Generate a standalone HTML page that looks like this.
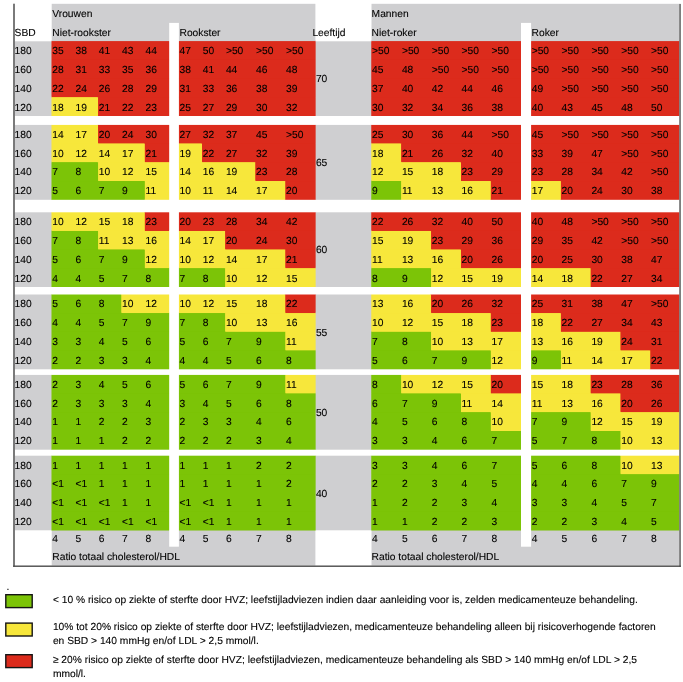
<!DOCTYPE html>
<html lang="nl"><head><meta charset="utf-8"><title>Risicotabel</title>
<style>
html,body{margin:0;padding:0;background:#fff}
body{width:683px;height:682px;position:relative;overflow:hidden;font-family:"Liberation Sans",sans-serif;color:#000;text-rendering:geometricPrecision;-webkit-text-stroke:0.1px #000}
.b{position:absolute}
.t,.l{position:absolute;font-size:10.25px;line-height:12px;white-space:nowrap}
</style></head><body>
<svg class="b" style="left:0;top:0" width="683" height="682" viewBox="0 0 683 682">
<rect x="51.00" y="3.10" width="265.10" height="38.90" fill="#cfcfd1"/>
<rect x="370.80" y="3.10" width="309.30" height="38.90" fill="#cfcfd1"/>
<rect x="51.00" y="529.60" width="265.10" height="36.70" fill="#cfcfd1"/>
<rect x="370.80" y="529.60" width="309.30" height="36.70" fill="#cfcfd1"/>
<rect x="13.90" y="40.60" width="38.50" height="76.10" fill="#cfcfd1"/>
<rect x="314.70" y="40.60" width="57.50" height="76.10" fill="#cfcfd1"/>
<rect x="51.00" y="40.60" width="118.90" height="20.08" fill="#dc2b1c"/>
<rect x="51.00" y="59.27" width="118.90" height="20.08" fill="#dc2b1c"/>
<rect x="51.00" y="77.95" width="118.90" height="20.08" fill="#dc2b1c"/>
<rect x="51.00" y="96.62" width="47.90" height="20.08" fill="#f7e73b"/>
<rect x="97.50" y="96.62" width="72.40" height="20.08" fill="#dc2b1c"/>
<rect x="178.20" y="40.60" width="137.90" height="20.08" fill="#dc2b1c"/>
<rect x="178.20" y="59.27" width="137.90" height="20.08" fill="#dc2b1c"/>
<rect x="178.20" y="77.95" width="137.90" height="20.08" fill="#dc2b1c"/>
<rect x="178.20" y="96.62" width="137.90" height="20.08" fill="#dc2b1c"/>
<rect x="370.80" y="40.60" width="150.90" height="20.08" fill="#dc2b1c"/>
<rect x="370.80" y="59.27" width="150.90" height="20.08" fill="#dc2b1c"/>
<rect x="370.80" y="77.95" width="150.90" height="20.08" fill="#dc2b1c"/>
<rect x="370.80" y="96.62" width="150.90" height="20.08" fill="#dc2b1c"/>
<rect x="530.40" y="40.60" width="149.70" height="20.08" fill="#dc2b1c"/>
<rect x="530.40" y="59.27" width="149.70" height="20.08" fill="#dc2b1c"/>
<rect x="530.40" y="77.95" width="149.70" height="20.08" fill="#dc2b1c"/>
<rect x="530.40" y="96.62" width="149.70" height="20.08" fill="#dc2b1c"/>
<rect x="13.90" y="124.20" width="38.50" height="76.30" fill="#cfcfd1"/>
<rect x="314.70" y="124.20" width="57.50" height="76.30" fill="#cfcfd1"/>
<rect x="51.00" y="124.20" width="47.90" height="20.12" fill="#f7e73b"/>
<rect x="97.50" y="124.20" width="72.40" height="20.12" fill="#dc2b1c"/>
<rect x="51.00" y="142.93" width="94.60" height="20.12" fill="#f7e73b"/>
<rect x="144.20" y="142.93" width="25.70" height="20.12" fill="#dc2b1c"/>
<rect x="51.00" y="161.65" width="47.90" height="20.12" fill="#7cc407"/>
<rect x="97.50" y="161.65" width="72.40" height="20.12" fill="#f7e73b"/>
<rect x="51.00" y="180.38" width="94.60" height="20.12" fill="#7cc407"/>
<rect x="144.20" y="180.38" width="25.70" height="20.12" fill="#f7e73b"/>
<rect x="178.20" y="124.20" width="137.90" height="20.12" fill="#dc2b1c"/>
<rect x="178.20" y="142.93" width="24.60" height="20.12" fill="#f7e73b"/>
<rect x="201.40" y="142.93" width="114.70" height="20.12" fill="#dc2b1c"/>
<rect x="178.20" y="161.65" width="78.00" height="20.12" fill="#f7e73b"/>
<rect x="254.80" y="161.65" width="61.30" height="20.12" fill="#dc2b1c"/>
<rect x="178.20" y="180.38" width="108.00" height="20.12" fill="#f7e73b"/>
<rect x="284.80" y="180.38" width="31.30" height="20.12" fill="#dc2b1c"/>
<rect x="370.80" y="124.20" width="150.90" height="20.12" fill="#dc2b1c"/>
<rect x="370.80" y="142.93" width="31.20" height="20.12" fill="#f7e73b"/>
<rect x="400.60" y="142.93" width="121.10" height="20.12" fill="#dc2b1c"/>
<rect x="370.80" y="161.65" width="90.90" height="20.12" fill="#f7e73b"/>
<rect x="460.30" y="161.65" width="61.40" height="20.12" fill="#dc2b1c"/>
<rect x="370.80" y="180.38" width="31.20" height="20.12" fill="#7cc407"/>
<rect x="400.60" y="180.38" width="91.00" height="20.12" fill="#f7e73b"/>
<rect x="490.20" y="180.38" width="31.50" height="20.12" fill="#dc2b1c"/>
<rect x="530.40" y="124.20" width="149.70" height="20.12" fill="#dc2b1c"/>
<rect x="530.40" y="142.93" width="149.70" height="20.12" fill="#dc2b1c"/>
<rect x="530.40" y="161.65" width="149.70" height="20.12" fill="#dc2b1c"/>
<rect x="530.40" y="180.38" width="31.25" height="20.12" fill="#f7e73b"/>
<rect x="560.25" y="180.38" width="119.85" height="20.12" fill="#dc2b1c"/>
<rect x="13.90" y="211.60" width="38.50" height="76.10" fill="#cfcfd1"/>
<rect x="314.70" y="211.60" width="57.50" height="76.10" fill="#cfcfd1"/>
<rect x="51.00" y="211.60" width="94.60" height="20.07" fill="#f7e73b"/>
<rect x="144.20" y="211.60" width="25.70" height="20.07" fill="#dc2b1c"/>
<rect x="51.00" y="230.28" width="47.90" height="20.07" fill="#7cc407"/>
<rect x="97.50" y="230.28" width="72.40" height="20.07" fill="#f7e73b"/>
<rect x="51.00" y="248.95" width="94.60" height="20.07" fill="#7cc407"/>
<rect x="144.20" y="248.95" width="25.70" height="20.07" fill="#f7e73b"/>
<rect x="51.00" y="267.62" width="118.90" height="20.07" fill="#7cc407"/>
<rect x="178.20" y="211.60" width="137.90" height="20.07" fill="#dc2b1c"/>
<rect x="178.20" y="230.28" width="47.80" height="20.07" fill="#f7e73b"/>
<rect x="224.60" y="230.28" width="91.50" height="20.07" fill="#dc2b1c"/>
<rect x="178.20" y="248.95" width="108.00" height="20.07" fill="#f7e73b"/>
<rect x="284.80" y="248.95" width="31.30" height="20.07" fill="#dc2b1c"/>
<rect x="178.20" y="267.62" width="47.80" height="20.07" fill="#7cc407"/>
<rect x="224.60" y="267.62" width="91.50" height="20.07" fill="#f7e73b"/>
<rect x="370.80" y="211.60" width="150.90" height="20.07" fill="#dc2b1c"/>
<rect x="370.80" y="230.28" width="61.10" height="20.07" fill="#f7e73b"/>
<rect x="430.50" y="230.28" width="91.20" height="20.07" fill="#dc2b1c"/>
<rect x="370.80" y="248.95" width="90.90" height="20.07" fill="#f7e73b"/>
<rect x="460.30" y="248.95" width="61.40" height="20.07" fill="#dc2b1c"/>
<rect x="370.80" y="267.62" width="61.10" height="20.07" fill="#7cc407"/>
<rect x="430.50" y="267.62" width="91.20" height="20.07" fill="#f7e73b"/>
<rect x="530.40" y="211.60" width="149.70" height="20.07" fill="#dc2b1c"/>
<rect x="530.40" y="230.28" width="149.70" height="20.07" fill="#dc2b1c"/>
<rect x="530.40" y="248.95" width="149.70" height="20.07" fill="#dc2b1c"/>
<rect x="530.40" y="267.62" width="61.10" height="20.07" fill="#f7e73b"/>
<rect x="590.10" y="267.62" width="90.00" height="20.07" fill="#dc2b1c"/>
<rect x="13.90" y="293.80" width="38.50" height="76.20" fill="#cfcfd1"/>
<rect x="314.70" y="293.80" width="57.50" height="76.20" fill="#cfcfd1"/>
<rect x="51.00" y="293.80" width="71.20" height="20.10" fill="#7cc407"/>
<rect x="120.80" y="293.80" width="49.10" height="20.10" fill="#f7e73b"/>
<rect x="51.00" y="312.50" width="118.90" height="20.10" fill="#7cc407"/>
<rect x="51.00" y="331.20" width="118.90" height="20.10" fill="#7cc407"/>
<rect x="51.00" y="349.90" width="118.90" height="20.10" fill="#7cc407"/>
<rect x="178.20" y="293.80" width="108.00" height="20.10" fill="#f7e73b"/>
<rect x="284.80" y="293.80" width="31.30" height="20.10" fill="#dc2b1c"/>
<rect x="178.20" y="312.50" width="47.80" height="20.10" fill="#7cc407"/>
<rect x="224.60" y="312.50" width="91.50" height="20.10" fill="#f7e73b"/>
<rect x="178.20" y="331.20" width="108.00" height="20.10" fill="#7cc407"/>
<rect x="284.80" y="331.20" width="31.30" height="20.10" fill="#f7e73b"/>
<rect x="178.20" y="349.90" width="137.90" height="20.10" fill="#7cc407"/>
<rect x="370.80" y="293.80" width="61.10" height="20.10" fill="#f7e73b"/>
<rect x="430.50" y="293.80" width="91.20" height="20.10" fill="#dc2b1c"/>
<rect x="370.80" y="312.50" width="120.80" height="20.10" fill="#f7e73b"/>
<rect x="490.20" y="312.50" width="31.50" height="20.10" fill="#dc2b1c"/>
<rect x="370.80" y="331.20" width="61.10" height="20.10" fill="#7cc407"/>
<rect x="430.50" y="331.20" width="91.20" height="20.10" fill="#f7e73b"/>
<rect x="370.80" y="349.90" width="120.80" height="20.10" fill="#7cc407"/>
<rect x="490.20" y="349.90" width="31.50" height="20.10" fill="#f7e73b"/>
<rect x="530.40" y="293.80" width="149.70" height="20.10" fill="#dc2b1c"/>
<rect x="530.40" y="312.50" width="31.25" height="20.10" fill="#f7e73b"/>
<rect x="560.25" y="312.50" width="119.85" height="20.10" fill="#dc2b1c"/>
<rect x="530.40" y="331.20" width="90.95" height="20.10" fill="#f7e73b"/>
<rect x="619.95" y="331.20" width="60.15" height="20.10" fill="#dc2b1c"/>
<rect x="530.40" y="349.90" width="31.25" height="20.10" fill="#7cc407"/>
<rect x="560.25" y="349.90" width="90.95" height="20.10" fill="#f7e73b"/>
<rect x="649.80" y="349.90" width="30.30" height="20.10" fill="#dc2b1c"/>
<rect x="13.90" y="374.20" width="38.50" height="76.20" fill="#cfcfd1"/>
<rect x="314.70" y="374.20" width="57.50" height="76.20" fill="#cfcfd1"/>
<rect x="51.00" y="374.20" width="118.90" height="20.10" fill="#7cc407"/>
<rect x="51.00" y="392.90" width="118.90" height="20.10" fill="#7cc407"/>
<rect x="51.00" y="411.60" width="118.90" height="20.10" fill="#7cc407"/>
<rect x="51.00" y="430.30" width="118.90" height="20.10" fill="#7cc407"/>
<rect x="178.20" y="374.20" width="108.00" height="20.10" fill="#7cc407"/>
<rect x="284.80" y="374.20" width="31.30" height="20.10" fill="#f7e73b"/>
<rect x="178.20" y="392.90" width="137.90" height="20.10" fill="#7cc407"/>
<rect x="178.20" y="411.60" width="137.90" height="20.10" fill="#7cc407"/>
<rect x="178.20" y="430.30" width="137.90" height="20.10" fill="#7cc407"/>
<rect x="370.80" y="374.20" width="31.20" height="20.10" fill="#7cc407"/>
<rect x="400.60" y="374.20" width="91.00" height="20.10" fill="#f7e73b"/>
<rect x="490.20" y="374.20" width="31.50" height="20.10" fill="#dc2b1c"/>
<rect x="370.80" y="392.90" width="90.90" height="20.10" fill="#7cc407"/>
<rect x="460.30" y="392.90" width="61.40" height="20.10" fill="#f7e73b"/>
<rect x="370.80" y="411.60" width="120.80" height="20.10" fill="#7cc407"/>
<rect x="490.20" y="411.60" width="31.50" height="20.10" fill="#f7e73b"/>
<rect x="370.80" y="430.30" width="150.90" height="20.10" fill="#7cc407"/>
<rect x="530.40" y="374.20" width="61.10" height="20.10" fill="#f7e73b"/>
<rect x="590.10" y="374.20" width="90.00" height="20.10" fill="#dc2b1c"/>
<rect x="530.40" y="392.90" width="90.95" height="20.10" fill="#f7e73b"/>
<rect x="619.95" y="392.90" width="60.15" height="20.10" fill="#dc2b1c"/>
<rect x="530.40" y="411.60" width="61.10" height="20.10" fill="#7cc407"/>
<rect x="590.10" y="411.60" width="90.00" height="20.10" fill="#f7e73b"/>
<rect x="530.40" y="430.30" width="90.95" height="20.10" fill="#7cc407"/>
<rect x="619.95" y="430.30" width="60.15" height="20.10" fill="#f7e73b"/>
<rect x="13.90" y="455.00" width="38.50" height="76.00" fill="#cfcfd1"/>
<rect x="314.70" y="455.00" width="57.50" height="76.00" fill="#cfcfd1"/>
<rect x="51.00" y="455.00" width="118.90" height="20.05" fill="#7cc407"/>
<rect x="51.00" y="473.65" width="118.90" height="20.05" fill="#7cc407"/>
<rect x="51.00" y="492.30" width="118.90" height="20.05" fill="#7cc407"/>
<rect x="51.00" y="510.95" width="118.90" height="20.05" fill="#7cc407"/>
<rect x="178.20" y="455.00" width="137.90" height="20.05" fill="#7cc407"/>
<rect x="178.20" y="473.65" width="137.90" height="20.05" fill="#7cc407"/>
<rect x="178.20" y="492.30" width="137.90" height="20.05" fill="#7cc407"/>
<rect x="178.20" y="510.95" width="137.90" height="20.05" fill="#7cc407"/>
<rect x="370.80" y="455.00" width="150.90" height="20.05" fill="#7cc407"/>
<rect x="370.80" y="473.65" width="150.90" height="20.05" fill="#7cc407"/>
<rect x="370.80" y="492.30" width="150.90" height="20.05" fill="#7cc407"/>
<rect x="370.80" y="510.95" width="150.90" height="20.05" fill="#7cc407"/>
<rect x="530.40" y="455.00" width="90.95" height="20.05" fill="#7cc407"/>
<rect x="619.95" y="455.00" width="60.15" height="20.05" fill="#f7e73b"/>
<rect x="530.40" y="473.65" width="149.70" height="20.05" fill="#7cc407"/>
<rect x="530.40" y="492.30" width="149.70" height="20.05" fill="#7cc407"/>
<rect x="530.40" y="510.95" width="149.70" height="20.05" fill="#7cc407"/>
<rect x="51.70" y="3.80" width="263.70" height="37.50" fill="#cfcfd1"/>
<rect x="371.50" y="3.80" width="307.90" height="37.50" fill="#cfcfd1"/>
<rect x="51.70" y="530.30" width="263.70" height="35.30" fill="#cfcfd1"/>
<rect x="371.50" y="530.30" width="307.90" height="35.30" fill="#cfcfd1"/>
<rect x="14.60" y="41.30" width="37.10" height="74.70" fill="#cfcfd1"/>
<rect x="315.40" y="41.30" width="56.10" height="74.70" fill="#cfcfd1"/>
<rect x="51.70" y="41.30" width="117.50" height="18.67" fill="#dc2b1c"/>
<rect x="51.70" y="59.97" width="117.50" height="18.68" fill="#dc2b1c"/>
<rect x="51.70" y="78.65" width="117.50" height="18.67" fill="#dc2b1c"/>
<rect x="51.70" y="97.33" width="46.50" height="18.67" fill="#f7e73b"/>
<rect x="98.20" y="97.33" width="71.00" height="18.67" fill="#dc2b1c"/>
<rect x="178.90" y="41.30" width="136.50" height="18.67" fill="#dc2b1c"/>
<rect x="178.90" y="59.97" width="136.50" height="18.68" fill="#dc2b1c"/>
<rect x="178.90" y="78.65" width="136.50" height="18.67" fill="#dc2b1c"/>
<rect x="178.90" y="97.33" width="136.50" height="18.67" fill="#dc2b1c"/>
<rect x="371.50" y="41.30" width="149.50" height="18.67" fill="#dc2b1c"/>
<rect x="371.50" y="59.97" width="149.50" height="18.68" fill="#dc2b1c"/>
<rect x="371.50" y="78.65" width="149.50" height="18.67" fill="#dc2b1c"/>
<rect x="371.50" y="97.33" width="149.50" height="18.67" fill="#dc2b1c"/>
<rect x="531.10" y="41.30" width="148.30" height="18.67" fill="#dc2b1c"/>
<rect x="531.10" y="59.97" width="148.30" height="18.68" fill="#dc2b1c"/>
<rect x="531.10" y="78.65" width="148.30" height="18.67" fill="#dc2b1c"/>
<rect x="531.10" y="97.33" width="148.30" height="18.67" fill="#dc2b1c"/>
<rect x="14.60" y="124.90" width="37.10" height="74.90" fill="#cfcfd1"/>
<rect x="315.40" y="124.90" width="56.10" height="74.90" fill="#cfcfd1"/>
<rect x="51.70" y="124.90" width="46.50" height="18.72" fill="#f7e73b"/>
<rect x="98.20" y="124.90" width="71.00" height="18.72" fill="#dc2b1c"/>
<rect x="51.70" y="143.62" width="93.20" height="18.73" fill="#f7e73b"/>
<rect x="144.90" y="143.62" width="24.30" height="18.73" fill="#dc2b1c"/>
<rect x="51.70" y="162.35" width="46.50" height="18.72" fill="#7cc407"/>
<rect x="98.20" y="162.35" width="71.00" height="18.72" fill="#f7e73b"/>
<rect x="51.70" y="181.08" width="93.20" height="18.72" fill="#7cc407"/>
<rect x="144.90" y="181.08" width="24.30" height="18.72" fill="#f7e73b"/>
<rect x="178.90" y="124.90" width="136.50" height="18.72" fill="#dc2b1c"/>
<rect x="178.90" y="143.62" width="23.20" height="18.73" fill="#f7e73b"/>
<rect x="202.10" y="143.62" width="113.30" height="18.73" fill="#dc2b1c"/>
<rect x="178.90" y="162.35" width="76.60" height="18.72" fill="#f7e73b"/>
<rect x="255.50" y="162.35" width="59.90" height="18.72" fill="#dc2b1c"/>
<rect x="178.90" y="181.08" width="106.60" height="18.72" fill="#f7e73b"/>
<rect x="285.50" y="181.08" width="29.90" height="18.72" fill="#dc2b1c"/>
<rect x="371.50" y="124.90" width="149.50" height="18.72" fill="#dc2b1c"/>
<rect x="371.50" y="143.62" width="29.80" height="18.73" fill="#f7e73b"/>
<rect x="401.30" y="143.62" width="119.70" height="18.73" fill="#dc2b1c"/>
<rect x="371.50" y="162.35" width="89.50" height="18.72" fill="#f7e73b"/>
<rect x="461.00" y="162.35" width="60.00" height="18.72" fill="#dc2b1c"/>
<rect x="371.50" y="181.08" width="29.80" height="18.72" fill="#7cc407"/>
<rect x="401.30" y="181.08" width="89.60" height="18.72" fill="#f7e73b"/>
<rect x="490.90" y="181.08" width="30.10" height="18.72" fill="#dc2b1c"/>
<rect x="531.10" y="124.90" width="148.30" height="18.72" fill="#dc2b1c"/>
<rect x="531.10" y="143.62" width="148.30" height="18.73" fill="#dc2b1c"/>
<rect x="531.10" y="162.35" width="148.30" height="18.72" fill="#dc2b1c"/>
<rect x="531.10" y="181.08" width="29.85" height="18.72" fill="#f7e73b"/>
<rect x="560.95" y="181.08" width="118.45" height="18.72" fill="#dc2b1c"/>
<rect x="14.60" y="212.30" width="37.10" height="74.70" fill="#cfcfd1"/>
<rect x="315.40" y="212.30" width="56.10" height="74.70" fill="#cfcfd1"/>
<rect x="51.70" y="212.30" width="93.20" height="18.68" fill="#f7e73b"/>
<rect x="144.90" y="212.30" width="24.30" height="18.68" fill="#dc2b1c"/>
<rect x="51.70" y="230.98" width="46.50" height="18.67" fill="#7cc407"/>
<rect x="98.20" y="230.98" width="71.00" height="18.67" fill="#f7e73b"/>
<rect x="51.70" y="249.65" width="93.20" height="18.67" fill="#7cc407"/>
<rect x="144.90" y="249.65" width="24.30" height="18.67" fill="#f7e73b"/>
<rect x="51.70" y="268.32" width="117.50" height="18.68" fill="#7cc407"/>
<rect x="178.90" y="212.30" width="136.50" height="18.68" fill="#dc2b1c"/>
<rect x="178.90" y="230.98" width="46.40" height="18.67" fill="#f7e73b"/>
<rect x="225.30" y="230.98" width="90.10" height="18.67" fill="#dc2b1c"/>
<rect x="178.90" y="249.65" width="106.60" height="18.67" fill="#f7e73b"/>
<rect x="285.50" y="249.65" width="29.90" height="18.67" fill="#dc2b1c"/>
<rect x="178.90" y="268.32" width="46.40" height="18.68" fill="#7cc407"/>
<rect x="225.30" y="268.32" width="90.10" height="18.68" fill="#f7e73b"/>
<rect x="371.50" y="212.30" width="149.50" height="18.68" fill="#dc2b1c"/>
<rect x="371.50" y="230.98" width="59.70" height="18.67" fill="#f7e73b"/>
<rect x="431.20" y="230.98" width="89.80" height="18.67" fill="#dc2b1c"/>
<rect x="371.50" y="249.65" width="89.50" height="18.67" fill="#f7e73b"/>
<rect x="461.00" y="249.65" width="60.00" height="18.67" fill="#dc2b1c"/>
<rect x="371.50" y="268.32" width="59.70" height="18.68" fill="#7cc407"/>
<rect x="431.20" y="268.32" width="89.80" height="18.68" fill="#f7e73b"/>
<rect x="531.10" y="212.30" width="148.30" height="18.68" fill="#dc2b1c"/>
<rect x="531.10" y="230.98" width="148.30" height="18.67" fill="#dc2b1c"/>
<rect x="531.10" y="249.65" width="148.30" height="18.67" fill="#dc2b1c"/>
<rect x="531.10" y="268.32" width="59.70" height="18.68" fill="#f7e73b"/>
<rect x="590.80" y="268.32" width="88.60" height="18.68" fill="#dc2b1c"/>
<rect x="14.60" y="294.50" width="37.10" height="74.80" fill="#cfcfd1"/>
<rect x="315.40" y="294.50" width="56.10" height="74.80" fill="#cfcfd1"/>
<rect x="51.70" y="294.50" width="69.80" height="18.70" fill="#7cc407"/>
<rect x="121.50" y="294.50" width="47.70" height="18.70" fill="#f7e73b"/>
<rect x="51.70" y="313.20" width="117.50" height="18.70" fill="#7cc407"/>
<rect x="51.70" y="331.90" width="117.50" height="18.70" fill="#7cc407"/>
<rect x="51.70" y="350.60" width="117.50" height="18.70" fill="#7cc407"/>
<rect x="178.90" y="294.50" width="106.60" height="18.70" fill="#f7e73b"/>
<rect x="285.50" y="294.50" width="29.90" height="18.70" fill="#dc2b1c"/>
<rect x="178.90" y="313.20" width="46.40" height="18.70" fill="#7cc407"/>
<rect x="225.30" y="313.20" width="90.10" height="18.70" fill="#f7e73b"/>
<rect x="178.90" y="331.90" width="106.60" height="18.70" fill="#7cc407"/>
<rect x="285.50" y="331.90" width="29.90" height="18.70" fill="#f7e73b"/>
<rect x="178.90" y="350.60" width="136.50" height="18.70" fill="#7cc407"/>
<rect x="371.50" y="294.50" width="59.70" height="18.70" fill="#f7e73b"/>
<rect x="431.20" y="294.50" width="89.80" height="18.70" fill="#dc2b1c"/>
<rect x="371.50" y="313.20" width="119.40" height="18.70" fill="#f7e73b"/>
<rect x="490.90" y="313.20" width="30.10" height="18.70" fill="#dc2b1c"/>
<rect x="371.50" y="331.90" width="59.70" height="18.70" fill="#7cc407"/>
<rect x="431.20" y="331.90" width="89.80" height="18.70" fill="#f7e73b"/>
<rect x="371.50" y="350.60" width="119.40" height="18.70" fill="#7cc407"/>
<rect x="490.90" y="350.60" width="30.10" height="18.70" fill="#f7e73b"/>
<rect x="531.10" y="294.50" width="148.30" height="18.70" fill="#dc2b1c"/>
<rect x="531.10" y="313.20" width="29.85" height="18.70" fill="#f7e73b"/>
<rect x="560.95" y="313.20" width="118.45" height="18.70" fill="#dc2b1c"/>
<rect x="531.10" y="331.90" width="89.55" height="18.70" fill="#f7e73b"/>
<rect x="620.65" y="331.90" width="58.75" height="18.70" fill="#dc2b1c"/>
<rect x="531.10" y="350.60" width="29.85" height="18.70" fill="#7cc407"/>
<rect x="560.95" y="350.60" width="89.55" height="18.70" fill="#f7e73b"/>
<rect x="650.50" y="350.60" width="28.90" height="18.70" fill="#dc2b1c"/>
<rect x="14.60" y="374.90" width="37.10" height="74.80" fill="#cfcfd1"/>
<rect x="315.40" y="374.90" width="56.10" height="74.80" fill="#cfcfd1"/>
<rect x="51.70" y="374.90" width="117.50" height="18.70" fill="#7cc407"/>
<rect x="51.70" y="393.60" width="117.50" height="18.70" fill="#7cc407"/>
<rect x="51.70" y="412.30" width="117.50" height="18.70" fill="#7cc407"/>
<rect x="51.70" y="431.00" width="117.50" height="18.70" fill="#7cc407"/>
<rect x="178.90" y="374.90" width="106.60" height="18.70" fill="#7cc407"/>
<rect x="285.50" y="374.90" width="29.90" height="18.70" fill="#f7e73b"/>
<rect x="178.90" y="393.60" width="136.50" height="18.70" fill="#7cc407"/>
<rect x="178.90" y="412.30" width="136.50" height="18.70" fill="#7cc407"/>
<rect x="178.90" y="431.00" width="136.50" height="18.70" fill="#7cc407"/>
<rect x="371.50" y="374.90" width="29.80" height="18.70" fill="#7cc407"/>
<rect x="401.30" y="374.90" width="89.60" height="18.70" fill="#f7e73b"/>
<rect x="490.90" y="374.90" width="30.10" height="18.70" fill="#dc2b1c"/>
<rect x="371.50" y="393.60" width="89.50" height="18.70" fill="#7cc407"/>
<rect x="461.00" y="393.60" width="60.00" height="18.70" fill="#f7e73b"/>
<rect x="371.50" y="412.30" width="119.40" height="18.70" fill="#7cc407"/>
<rect x="490.90" y="412.30" width="30.10" height="18.70" fill="#f7e73b"/>
<rect x="371.50" y="431.00" width="149.50" height="18.70" fill="#7cc407"/>
<rect x="531.10" y="374.90" width="59.70" height="18.70" fill="#f7e73b"/>
<rect x="590.80" y="374.90" width="88.60" height="18.70" fill="#dc2b1c"/>
<rect x="531.10" y="393.60" width="89.55" height="18.70" fill="#f7e73b"/>
<rect x="620.65" y="393.60" width="58.75" height="18.70" fill="#dc2b1c"/>
<rect x="531.10" y="412.30" width="59.70" height="18.70" fill="#7cc407"/>
<rect x="590.80" y="412.30" width="88.60" height="18.70" fill="#f7e73b"/>
<rect x="531.10" y="431.00" width="89.55" height="18.70" fill="#7cc407"/>
<rect x="620.65" y="431.00" width="58.75" height="18.70" fill="#f7e73b"/>
<rect x="14.60" y="455.70" width="37.10" height="74.60" fill="#cfcfd1"/>
<rect x="315.40" y="455.70" width="56.10" height="74.60" fill="#cfcfd1"/>
<rect x="51.70" y="455.70" width="117.50" height="18.65" fill="#7cc407"/>
<rect x="51.70" y="474.35" width="117.50" height="18.65" fill="#7cc407"/>
<rect x="51.70" y="493.00" width="117.50" height="18.65" fill="#7cc407"/>
<rect x="51.70" y="511.65" width="117.50" height="18.65" fill="#7cc407"/>
<rect x="178.90" y="455.70" width="136.50" height="18.65" fill="#7cc407"/>
<rect x="178.90" y="474.35" width="136.50" height="18.65" fill="#7cc407"/>
<rect x="178.90" y="493.00" width="136.50" height="18.65" fill="#7cc407"/>
<rect x="178.90" y="511.65" width="136.50" height="18.65" fill="#7cc407"/>
<rect x="371.50" y="455.70" width="149.50" height="18.65" fill="#7cc407"/>
<rect x="371.50" y="474.35" width="149.50" height="18.65" fill="#7cc407"/>
<rect x="371.50" y="493.00" width="149.50" height="18.65" fill="#7cc407"/>
<rect x="371.50" y="511.65" width="149.50" height="18.65" fill="#7cc407"/>
<rect x="531.10" y="455.70" width="89.55" height="18.65" fill="#7cc407"/>
<rect x="620.65" y="455.70" width="58.75" height="18.65" fill="#f7e73b"/>
<rect x="531.10" y="474.35" width="148.30" height="18.65" fill="#7cc407"/>
<rect x="531.10" y="493.00" width="148.30" height="18.65" fill="#7cc407"/>
<rect x="531.10" y="511.65" width="148.30" height="18.65" fill="#7cc407"/>
<rect x="0.00" y="116.00" width="683.00" height="8.90" fill="#fff"/>
<rect x="0.00" y="199.80" width="683.00" height="12.50" fill="#fff"/>
<rect x="0.00" y="287.00" width="683.00" height="7.50" fill="#fff"/>
<rect x="0.00" y="369.30" width="683.00" height="5.60" fill="#fff"/>
<rect x="0.00" y="449.70" width="683.00" height="6.00" fill="#fff"/>
<rect x="0.00" y="0.00" width="683.00" height="3.80" fill="#fff"/>
<rect x="0.00" y="0.00" width="14.60" height="575.00" fill="#fff"/>
<rect x="679.40" y="0.00" width="3.60" height="575.00" fill="#fff"/>
<rect x="0.00" y="0.00" width="51.70" height="41.30" fill="#fff"/>
<rect x="315.40" y="0.00" width="56.10" height="41.30" fill="#fff"/>
<rect x="0.00" y="530.30" width="51.70" height="44.70" fill="#fff"/>
<rect x="315.40" y="530.30" width="56.10" height="44.70" fill="#fff"/>
<rect x="0.00" y="565.60" width="683.00" height="9.40" fill="#fff"/>
<rect x="169.20" y="22.90" width="9.70" height="523.80" fill="#fff"/>
<rect x="521.00" y="22.90" width="10.10" height="523.80" fill="#fff"/>
<rect x="13.10" y="3.70" width="1.80" height="563.10" fill="#6c6c6c"/>
<rect x="679.20" y="3.90" width="1.70" height="562.90" fill="#707070"/>
<rect x="13.10" y="565.50" width="667.80" height="1.40" fill="#4c4c4c"/>
<rect x="5.8" y="594.70" width="26.4" height="12.9" fill="#7cc407" stroke="#151515" stroke-width="1.4"/>
<rect x="5.8" y="623.10" width="26.4" height="12.9" fill="#f7e73b" stroke="#151515" stroke-width="1.4"/>
<rect x="5.8" y="654.70" width="26.4" height="12.9" fill="#dc2b1c" stroke="#151515" stroke-width="1.4"/>
</svg>
<div class="t" style="left:14.60px;top:46.20px">180</div>
<div class="t" style="left:52.30px;top:46.20px">35</div>
<div class="t" style="left:75.60px;top:46.20px">38</div>
<div class="t" style="left:98.80px;top:46.20px">41</div>
<div class="t" style="left:122.10px;top:46.20px">43</div>
<div class="t" style="left:145.50px;top:46.20px">44</div>
<div class="t" style="left:179.50px;top:46.20px">47</div>
<div class="t" style="left:202.70px;top:46.20px">50</div>
<div class="t" style="left:225.90px;top:46.20px">&gt;50</div>
<div class="t" style="left:256.10px;top:46.20px">&gt;50</div>
<div class="t" style="left:286.10px;top:46.20px">&gt;50</div>
<div class="t" style="left:372.10px;top:46.20px">&gt;50</div>
<div class="t" style="left:401.90px;top:46.20px">&gt;50</div>
<div class="t" style="left:431.80px;top:46.20px">&gt;50</div>
<div class="t" style="left:461.60px;top:46.20px">&gt;50</div>
<div class="t" style="left:491.50px;top:46.20px">&gt;50</div>
<div class="t" style="left:531.70px;top:46.20px">&gt;50</div>
<div class="t" style="left:561.55px;top:46.20px">&gt;50</div>
<div class="t" style="left:591.40px;top:46.20px">&gt;50</div>
<div class="t" style="left:621.25px;top:46.20px">&gt;50</div>
<div class="t" style="left:651.10px;top:46.20px">&gt;50</div>
<div class="t" style="left:14.60px;top:64.98px">160</div>
<div class="t" style="left:52.30px;top:64.98px">28</div>
<div class="t" style="left:75.60px;top:64.98px">31</div>
<div class="t" style="left:98.80px;top:64.98px">33</div>
<div class="t" style="left:122.10px;top:64.98px">35</div>
<div class="t" style="left:145.50px;top:64.98px">36</div>
<div class="t" style="left:179.50px;top:64.98px">38</div>
<div class="t" style="left:202.70px;top:64.98px">41</div>
<div class="t" style="left:225.90px;top:64.98px">44</div>
<div class="t" style="left:256.10px;top:64.98px">46</div>
<div class="t" style="left:286.10px;top:64.98px">48</div>
<div class="t" style="left:372.10px;top:64.98px">45</div>
<div class="t" style="left:401.90px;top:64.98px">48</div>
<div class="t" style="left:431.80px;top:64.98px">&gt;50</div>
<div class="t" style="left:461.60px;top:64.98px">&gt;50</div>
<div class="t" style="left:491.50px;top:64.98px">&gt;50</div>
<div class="t" style="left:531.70px;top:64.98px">&gt;50</div>
<div class="t" style="left:561.55px;top:64.98px">&gt;50</div>
<div class="t" style="left:591.40px;top:64.98px">&gt;50</div>
<div class="t" style="left:621.25px;top:64.98px">&gt;50</div>
<div class="t" style="left:651.10px;top:64.98px">&gt;50</div>
<div class="t" style="left:14.60px;top:83.75px">140</div>
<div class="t" style="left:52.30px;top:83.75px">22</div>
<div class="t" style="left:75.60px;top:83.75px">24</div>
<div class="t" style="left:98.80px;top:83.75px">26</div>
<div class="t" style="left:122.10px;top:83.75px">28</div>
<div class="t" style="left:145.50px;top:83.75px">29</div>
<div class="t" style="left:179.50px;top:83.75px">31</div>
<div class="t" style="left:202.70px;top:83.75px">33</div>
<div class="t" style="left:225.90px;top:83.75px">36</div>
<div class="t" style="left:256.10px;top:83.75px">38</div>
<div class="t" style="left:286.10px;top:83.75px">39</div>
<div class="t" style="left:372.10px;top:83.75px">37</div>
<div class="t" style="left:401.90px;top:83.75px">40</div>
<div class="t" style="left:431.80px;top:83.75px">42</div>
<div class="t" style="left:461.60px;top:83.75px">44</div>
<div class="t" style="left:491.50px;top:83.75px">46</div>
<div class="t" style="left:531.70px;top:83.75px">49</div>
<div class="t" style="left:561.55px;top:83.75px">&gt;50</div>
<div class="t" style="left:591.40px;top:83.75px">&gt;50</div>
<div class="t" style="left:621.25px;top:83.75px">&gt;50</div>
<div class="t" style="left:651.10px;top:83.75px">&gt;50</div>
<div class="t" style="left:14.60px;top:102.53px">120</div>
<div class="t" style="left:52.30px;top:102.53px">18</div>
<div class="t" style="left:75.60px;top:102.53px">19</div>
<div class="t" style="left:98.80px;top:102.53px">21</div>
<div class="t" style="left:122.10px;top:102.53px">22</div>
<div class="t" style="left:145.50px;top:102.53px">23</div>
<div class="t" style="left:179.50px;top:102.53px">25</div>
<div class="t" style="left:202.70px;top:102.53px">27</div>
<div class="t" style="left:225.90px;top:102.53px">29</div>
<div class="t" style="left:256.10px;top:102.53px">30</div>
<div class="t" style="left:286.10px;top:102.53px">32</div>
<div class="t" style="left:372.10px;top:102.53px">30</div>
<div class="t" style="left:401.90px;top:102.53px">32</div>
<div class="t" style="left:431.80px;top:102.53px">34</div>
<div class="t" style="left:461.60px;top:102.53px">36</div>
<div class="t" style="left:491.50px;top:102.53px">38</div>
<div class="t" style="left:531.70px;top:102.53px">40</div>
<div class="t" style="left:561.55px;top:102.53px">43</div>
<div class="t" style="left:591.40px;top:102.53px">45</div>
<div class="t" style="left:621.25px;top:102.53px">48</div>
<div class="t" style="left:651.10px;top:102.53px">50</div>
<div class="t" style="left:315.90px;top:74.35px">70</div>
<div class="t" style="left:14.60px;top:129.80px">180</div>
<div class="t" style="left:52.30px;top:129.80px">14</div>
<div class="t" style="left:75.60px;top:129.80px">17</div>
<div class="t" style="left:98.80px;top:129.80px">20</div>
<div class="t" style="left:122.10px;top:129.80px">24</div>
<div class="t" style="left:145.50px;top:129.80px">30</div>
<div class="t" style="left:179.50px;top:129.80px">27</div>
<div class="t" style="left:202.70px;top:129.80px">32</div>
<div class="t" style="left:225.90px;top:129.80px">37</div>
<div class="t" style="left:256.10px;top:129.80px">45</div>
<div class="t" style="left:286.10px;top:129.80px">&gt;50</div>
<div class="t" style="left:372.10px;top:129.80px">25</div>
<div class="t" style="left:401.90px;top:129.80px">30</div>
<div class="t" style="left:431.80px;top:129.80px">36</div>
<div class="t" style="left:461.60px;top:129.80px">44</div>
<div class="t" style="left:491.50px;top:129.80px">&gt;50</div>
<div class="t" style="left:531.70px;top:129.80px">45</div>
<div class="t" style="left:561.55px;top:129.80px">&gt;50</div>
<div class="t" style="left:591.40px;top:129.80px">&gt;50</div>
<div class="t" style="left:621.25px;top:129.80px">&gt;50</div>
<div class="t" style="left:651.10px;top:129.80px">&gt;50</div>
<div class="t" style="left:14.60px;top:148.63px">160</div>
<div class="t" style="left:52.30px;top:148.63px">10</div>
<div class="t" style="left:75.60px;top:148.63px">12</div>
<div class="t" style="left:98.80px;top:148.63px">14</div>
<div class="t" style="left:122.10px;top:148.63px">17</div>
<div class="t" style="left:145.50px;top:148.63px">21</div>
<div class="t" style="left:179.50px;top:148.63px">19</div>
<div class="t" style="left:202.70px;top:148.63px">22</div>
<div class="t" style="left:225.90px;top:148.63px">27</div>
<div class="t" style="left:256.10px;top:148.63px">32</div>
<div class="t" style="left:286.10px;top:148.63px">39</div>
<div class="t" style="left:372.10px;top:148.63px">18</div>
<div class="t" style="left:401.90px;top:148.63px">21</div>
<div class="t" style="left:431.80px;top:148.63px">26</div>
<div class="t" style="left:461.60px;top:148.63px">32</div>
<div class="t" style="left:491.50px;top:148.63px">40</div>
<div class="t" style="left:531.70px;top:148.63px">33</div>
<div class="t" style="left:561.55px;top:148.63px">39</div>
<div class="t" style="left:591.40px;top:148.63px">47</div>
<div class="t" style="left:621.25px;top:148.63px">&gt;50</div>
<div class="t" style="left:651.10px;top:148.63px">&gt;50</div>
<div class="t" style="left:14.60px;top:167.45px">140</div>
<div class="t" style="left:52.30px;top:167.45px">7</div>
<div class="t" style="left:75.60px;top:167.45px">8</div>
<div class="t" style="left:98.80px;top:167.45px">10</div>
<div class="t" style="left:122.10px;top:167.45px">12</div>
<div class="t" style="left:145.50px;top:167.45px">15</div>
<div class="t" style="left:179.50px;top:167.45px">14</div>
<div class="t" style="left:202.70px;top:167.45px">16</div>
<div class="t" style="left:225.90px;top:167.45px">19</div>
<div class="t" style="left:256.10px;top:167.45px">23</div>
<div class="t" style="left:286.10px;top:167.45px">28</div>
<div class="t" style="left:372.10px;top:167.45px">12</div>
<div class="t" style="left:401.90px;top:167.45px">15</div>
<div class="t" style="left:431.80px;top:167.45px">18</div>
<div class="t" style="left:461.60px;top:167.45px">23</div>
<div class="t" style="left:491.50px;top:167.45px">29</div>
<div class="t" style="left:531.70px;top:167.45px">23</div>
<div class="t" style="left:561.55px;top:167.45px">28</div>
<div class="t" style="left:591.40px;top:167.45px">34</div>
<div class="t" style="left:621.25px;top:167.45px">42</div>
<div class="t" style="left:651.10px;top:167.45px">&gt;50</div>
<div class="t" style="left:14.60px;top:186.28px">120</div>
<div class="t" style="left:52.30px;top:186.28px">5</div>
<div class="t" style="left:75.60px;top:186.28px">6</div>
<div class="t" style="left:98.80px;top:186.28px">7</div>
<div class="t" style="left:122.10px;top:186.28px">9</div>
<div class="t" style="left:145.50px;top:186.28px">11</div>
<div class="t" style="left:179.50px;top:186.28px">10</div>
<div class="t" style="left:202.70px;top:186.28px">11</div>
<div class="t" style="left:225.90px;top:186.28px">14</div>
<div class="t" style="left:256.10px;top:186.28px">17</div>
<div class="t" style="left:286.10px;top:186.28px">20</div>
<div class="t" style="left:372.10px;top:186.28px">9</div>
<div class="t" style="left:401.90px;top:186.28px">11</div>
<div class="t" style="left:431.80px;top:186.28px">13</div>
<div class="t" style="left:461.60px;top:186.28px">16</div>
<div class="t" style="left:491.50px;top:186.28px">21</div>
<div class="t" style="left:531.70px;top:186.28px">17</div>
<div class="t" style="left:561.55px;top:186.28px">20</div>
<div class="t" style="left:591.40px;top:186.28px">24</div>
<div class="t" style="left:621.25px;top:186.28px">30</div>
<div class="t" style="left:651.10px;top:186.28px">38</div>
<div class="t" style="left:315.90px;top:158.05px">65</div>
<div class="t" style="left:14.60px;top:217.20px">180</div>
<div class="t" style="left:52.30px;top:217.20px">10</div>
<div class="t" style="left:75.60px;top:217.20px">12</div>
<div class="t" style="left:98.80px;top:217.20px">15</div>
<div class="t" style="left:122.10px;top:217.20px">18</div>
<div class="t" style="left:145.50px;top:217.20px">23</div>
<div class="t" style="left:179.50px;top:217.20px">20</div>
<div class="t" style="left:202.70px;top:217.20px">23</div>
<div class="t" style="left:225.90px;top:217.20px">28</div>
<div class="t" style="left:256.10px;top:217.20px">34</div>
<div class="t" style="left:286.10px;top:217.20px">42</div>
<div class="t" style="left:372.10px;top:217.20px">22</div>
<div class="t" style="left:401.90px;top:217.20px">26</div>
<div class="t" style="left:431.80px;top:217.20px">32</div>
<div class="t" style="left:461.60px;top:217.20px">40</div>
<div class="t" style="left:491.50px;top:217.20px">50</div>
<div class="t" style="left:531.70px;top:217.20px">40</div>
<div class="t" style="left:561.55px;top:217.20px">48</div>
<div class="t" style="left:591.40px;top:217.20px">&gt;50</div>
<div class="t" style="left:621.25px;top:217.20px">&gt;50</div>
<div class="t" style="left:651.10px;top:217.20px">&gt;50</div>
<div class="t" style="left:14.60px;top:235.98px">160</div>
<div class="t" style="left:52.30px;top:235.98px">7</div>
<div class="t" style="left:75.60px;top:235.98px">8</div>
<div class="t" style="left:98.80px;top:235.98px">11</div>
<div class="t" style="left:122.10px;top:235.98px">13</div>
<div class="t" style="left:145.50px;top:235.98px">16</div>
<div class="t" style="left:179.50px;top:235.98px">14</div>
<div class="t" style="left:202.70px;top:235.98px">17</div>
<div class="t" style="left:225.90px;top:235.98px">20</div>
<div class="t" style="left:256.10px;top:235.98px">24</div>
<div class="t" style="left:286.10px;top:235.98px">30</div>
<div class="t" style="left:372.10px;top:235.98px">15</div>
<div class="t" style="left:401.90px;top:235.98px">19</div>
<div class="t" style="left:431.80px;top:235.98px">23</div>
<div class="t" style="left:461.60px;top:235.98px">29</div>
<div class="t" style="left:491.50px;top:235.98px">36</div>
<div class="t" style="left:531.70px;top:235.98px">29</div>
<div class="t" style="left:561.55px;top:235.98px">35</div>
<div class="t" style="left:591.40px;top:235.98px">42</div>
<div class="t" style="left:621.25px;top:235.98px">&gt;50</div>
<div class="t" style="left:651.10px;top:235.98px">&gt;50</div>
<div class="t" style="left:14.60px;top:254.75px">140</div>
<div class="t" style="left:52.30px;top:254.75px">5</div>
<div class="t" style="left:75.60px;top:254.75px">6</div>
<div class="t" style="left:98.80px;top:254.75px">7</div>
<div class="t" style="left:122.10px;top:254.75px">9</div>
<div class="t" style="left:145.50px;top:254.75px">12</div>
<div class="t" style="left:179.50px;top:254.75px">10</div>
<div class="t" style="left:202.70px;top:254.75px">12</div>
<div class="t" style="left:225.90px;top:254.75px">14</div>
<div class="t" style="left:256.10px;top:254.75px">17</div>
<div class="t" style="left:286.10px;top:254.75px">21</div>
<div class="t" style="left:372.10px;top:254.75px">11</div>
<div class="t" style="left:401.90px;top:254.75px">13</div>
<div class="t" style="left:431.80px;top:254.75px">16</div>
<div class="t" style="left:461.60px;top:254.75px">20</div>
<div class="t" style="left:491.50px;top:254.75px">26</div>
<div class="t" style="left:531.70px;top:254.75px">20</div>
<div class="t" style="left:561.55px;top:254.75px">25</div>
<div class="t" style="left:591.40px;top:254.75px">30</div>
<div class="t" style="left:621.25px;top:254.75px">38</div>
<div class="t" style="left:651.10px;top:254.75px">47</div>
<div class="t" style="left:14.60px;top:273.52px">120</div>
<div class="t" style="left:52.30px;top:273.52px">4</div>
<div class="t" style="left:75.60px;top:273.52px">4</div>
<div class="t" style="left:98.80px;top:273.52px">5</div>
<div class="t" style="left:122.10px;top:273.52px">7</div>
<div class="t" style="left:145.50px;top:273.52px">8</div>
<div class="t" style="left:179.50px;top:273.52px">7</div>
<div class="t" style="left:202.70px;top:273.52px">8</div>
<div class="t" style="left:225.90px;top:273.52px">10</div>
<div class="t" style="left:256.10px;top:273.52px">12</div>
<div class="t" style="left:286.10px;top:273.52px">15</div>
<div class="t" style="left:372.10px;top:273.52px">8</div>
<div class="t" style="left:401.90px;top:273.52px">9</div>
<div class="t" style="left:431.80px;top:273.52px">12</div>
<div class="t" style="left:461.60px;top:273.52px">15</div>
<div class="t" style="left:491.50px;top:273.52px">19</div>
<div class="t" style="left:531.70px;top:273.52px">14</div>
<div class="t" style="left:561.55px;top:273.52px">18</div>
<div class="t" style="left:591.40px;top:273.52px">22</div>
<div class="t" style="left:621.25px;top:273.52px">27</div>
<div class="t" style="left:651.10px;top:273.52px">34</div>
<div class="t" style="left:315.90px;top:245.35px">60</div>
<div class="t" style="left:14.60px;top:299.40px">180</div>
<div class="t" style="left:52.30px;top:299.40px">5</div>
<div class="t" style="left:75.60px;top:299.40px">6</div>
<div class="t" style="left:98.80px;top:299.40px">8</div>
<div class="t" style="left:122.10px;top:299.40px">10</div>
<div class="t" style="left:145.50px;top:299.40px">12</div>
<div class="t" style="left:179.50px;top:299.40px">10</div>
<div class="t" style="left:202.70px;top:299.40px">12</div>
<div class="t" style="left:225.90px;top:299.40px">15</div>
<div class="t" style="left:256.10px;top:299.40px">18</div>
<div class="t" style="left:286.10px;top:299.40px">22</div>
<div class="t" style="left:372.10px;top:299.40px">13</div>
<div class="t" style="left:401.90px;top:299.40px">16</div>
<div class="t" style="left:431.80px;top:299.40px">20</div>
<div class="t" style="left:461.60px;top:299.40px">26</div>
<div class="t" style="left:491.50px;top:299.40px">32</div>
<div class="t" style="left:531.70px;top:299.40px">25</div>
<div class="t" style="left:561.55px;top:299.40px">31</div>
<div class="t" style="left:591.40px;top:299.40px">38</div>
<div class="t" style="left:621.25px;top:299.40px">47</div>
<div class="t" style="left:651.10px;top:299.40px">&gt;50</div>
<div class="t" style="left:14.60px;top:318.20px">160</div>
<div class="t" style="left:52.30px;top:318.20px">4</div>
<div class="t" style="left:75.60px;top:318.20px">4</div>
<div class="t" style="left:98.80px;top:318.20px">5</div>
<div class="t" style="left:122.10px;top:318.20px">7</div>
<div class="t" style="left:145.50px;top:318.20px">9</div>
<div class="t" style="left:179.50px;top:318.20px">7</div>
<div class="t" style="left:202.70px;top:318.20px">8</div>
<div class="t" style="left:225.90px;top:318.20px">10</div>
<div class="t" style="left:256.10px;top:318.20px">13</div>
<div class="t" style="left:286.10px;top:318.20px">16</div>
<div class="t" style="left:372.10px;top:318.20px">10</div>
<div class="t" style="left:401.90px;top:318.20px">12</div>
<div class="t" style="left:431.80px;top:318.20px">15</div>
<div class="t" style="left:461.60px;top:318.20px">18</div>
<div class="t" style="left:491.50px;top:318.20px">23</div>
<div class="t" style="left:531.70px;top:318.20px">18</div>
<div class="t" style="left:561.55px;top:318.20px">22</div>
<div class="t" style="left:591.40px;top:318.20px">27</div>
<div class="t" style="left:621.25px;top:318.20px">34</div>
<div class="t" style="left:651.10px;top:318.20px">43</div>
<div class="t" style="left:14.60px;top:337.00px">140</div>
<div class="t" style="left:52.30px;top:337.00px">3</div>
<div class="t" style="left:75.60px;top:337.00px">3</div>
<div class="t" style="left:98.80px;top:337.00px">4</div>
<div class="t" style="left:122.10px;top:337.00px">5</div>
<div class="t" style="left:145.50px;top:337.00px">6</div>
<div class="t" style="left:179.50px;top:337.00px">5</div>
<div class="t" style="left:202.70px;top:337.00px">6</div>
<div class="t" style="left:225.90px;top:337.00px">7</div>
<div class="t" style="left:256.10px;top:337.00px">9</div>
<div class="t" style="left:286.10px;top:337.00px">11</div>
<div class="t" style="left:372.10px;top:337.00px">7</div>
<div class="t" style="left:401.90px;top:337.00px">8</div>
<div class="t" style="left:431.80px;top:337.00px">10</div>
<div class="t" style="left:461.60px;top:337.00px">13</div>
<div class="t" style="left:491.50px;top:337.00px">17</div>
<div class="t" style="left:531.70px;top:337.00px">13</div>
<div class="t" style="left:561.55px;top:337.00px">16</div>
<div class="t" style="left:591.40px;top:337.00px">19</div>
<div class="t" style="left:621.25px;top:337.00px">24</div>
<div class="t" style="left:651.10px;top:337.00px">31</div>
<div class="t" style="left:14.60px;top:355.80px">120</div>
<div class="t" style="left:52.30px;top:355.80px">2</div>
<div class="t" style="left:75.60px;top:355.80px">2</div>
<div class="t" style="left:98.80px;top:355.80px">3</div>
<div class="t" style="left:122.10px;top:355.80px">3</div>
<div class="t" style="left:145.50px;top:355.80px">4</div>
<div class="t" style="left:179.50px;top:355.80px">4</div>
<div class="t" style="left:202.70px;top:355.80px">4</div>
<div class="t" style="left:225.90px;top:355.80px">5</div>
<div class="t" style="left:256.10px;top:355.80px">6</div>
<div class="t" style="left:286.10px;top:355.80px">8</div>
<div class="t" style="left:372.10px;top:355.80px">5</div>
<div class="t" style="left:401.90px;top:355.80px">6</div>
<div class="t" style="left:431.80px;top:355.80px">7</div>
<div class="t" style="left:461.60px;top:355.80px">9</div>
<div class="t" style="left:491.50px;top:355.80px">12</div>
<div class="t" style="left:531.70px;top:355.80px">9</div>
<div class="t" style="left:561.55px;top:355.80px">11</div>
<div class="t" style="left:591.40px;top:355.80px">14</div>
<div class="t" style="left:621.25px;top:355.80px">17</div>
<div class="t" style="left:651.10px;top:355.80px">22</div>
<div class="t" style="left:315.90px;top:327.60px">55</div>
<div class="t" style="left:14.60px;top:379.80px">180</div>
<div class="t" style="left:52.30px;top:379.80px">2</div>
<div class="t" style="left:75.60px;top:379.80px">3</div>
<div class="t" style="left:98.80px;top:379.80px">4</div>
<div class="t" style="left:122.10px;top:379.80px">5</div>
<div class="t" style="left:145.50px;top:379.80px">6</div>
<div class="t" style="left:179.50px;top:379.80px">5</div>
<div class="t" style="left:202.70px;top:379.80px">6</div>
<div class="t" style="left:225.90px;top:379.80px">7</div>
<div class="t" style="left:256.10px;top:379.80px">9</div>
<div class="t" style="left:286.10px;top:379.80px">11</div>
<div class="t" style="left:372.10px;top:379.80px">8</div>
<div class="t" style="left:401.90px;top:379.80px">10</div>
<div class="t" style="left:431.80px;top:379.80px">12</div>
<div class="t" style="left:461.60px;top:379.80px">15</div>
<div class="t" style="left:491.50px;top:379.80px">20</div>
<div class="t" style="left:531.70px;top:379.80px">15</div>
<div class="t" style="left:561.55px;top:379.80px">18</div>
<div class="t" style="left:591.40px;top:379.80px">23</div>
<div class="t" style="left:621.25px;top:379.80px">28</div>
<div class="t" style="left:651.10px;top:379.80px">36</div>
<div class="t" style="left:14.60px;top:398.60px">160</div>
<div class="t" style="left:52.30px;top:398.60px">2</div>
<div class="t" style="left:75.60px;top:398.60px">3</div>
<div class="t" style="left:98.80px;top:398.60px">3</div>
<div class="t" style="left:122.10px;top:398.60px">3</div>
<div class="t" style="left:145.50px;top:398.60px">4</div>
<div class="t" style="left:179.50px;top:398.60px">3</div>
<div class="t" style="left:202.70px;top:398.60px">4</div>
<div class="t" style="left:225.90px;top:398.60px">5</div>
<div class="t" style="left:256.10px;top:398.60px">6</div>
<div class="t" style="left:286.10px;top:398.60px">8</div>
<div class="t" style="left:372.10px;top:398.60px">6</div>
<div class="t" style="left:401.90px;top:398.60px">7</div>
<div class="t" style="left:431.80px;top:398.60px">9</div>
<div class="t" style="left:461.60px;top:398.60px">11</div>
<div class="t" style="left:491.50px;top:398.60px">14</div>
<div class="t" style="left:531.70px;top:398.60px">11</div>
<div class="t" style="left:561.55px;top:398.60px">13</div>
<div class="t" style="left:591.40px;top:398.60px">16</div>
<div class="t" style="left:621.25px;top:398.60px">20</div>
<div class="t" style="left:651.10px;top:398.60px">26</div>
<div class="t" style="left:14.60px;top:417.40px">140</div>
<div class="t" style="left:52.30px;top:417.40px">1</div>
<div class="t" style="left:75.60px;top:417.40px">1</div>
<div class="t" style="left:98.80px;top:417.40px">2</div>
<div class="t" style="left:122.10px;top:417.40px">2</div>
<div class="t" style="left:145.50px;top:417.40px">3</div>
<div class="t" style="left:179.50px;top:417.40px">2</div>
<div class="t" style="left:202.70px;top:417.40px">3</div>
<div class="t" style="left:225.90px;top:417.40px">3</div>
<div class="t" style="left:256.10px;top:417.40px">4</div>
<div class="t" style="left:286.10px;top:417.40px">6</div>
<div class="t" style="left:372.10px;top:417.40px">4</div>
<div class="t" style="left:401.90px;top:417.40px">5</div>
<div class="t" style="left:431.80px;top:417.40px">6</div>
<div class="t" style="left:461.60px;top:417.40px">8</div>
<div class="t" style="left:491.50px;top:417.40px">10</div>
<div class="t" style="left:531.70px;top:417.40px">7</div>
<div class="t" style="left:561.55px;top:417.40px">9</div>
<div class="t" style="left:591.40px;top:417.40px">12</div>
<div class="t" style="left:621.25px;top:417.40px">15</div>
<div class="t" style="left:651.10px;top:417.40px">19</div>
<div class="t" style="left:14.60px;top:436.20px">120</div>
<div class="t" style="left:52.30px;top:436.20px">1</div>
<div class="t" style="left:75.60px;top:436.20px">1</div>
<div class="t" style="left:98.80px;top:436.20px">1</div>
<div class="t" style="left:122.10px;top:436.20px">2</div>
<div class="t" style="left:145.50px;top:436.20px">2</div>
<div class="t" style="left:179.50px;top:436.20px">2</div>
<div class="t" style="left:202.70px;top:436.20px">2</div>
<div class="t" style="left:225.90px;top:436.20px">2</div>
<div class="t" style="left:256.10px;top:436.20px">3</div>
<div class="t" style="left:286.10px;top:436.20px">4</div>
<div class="t" style="left:372.10px;top:436.20px">3</div>
<div class="t" style="left:401.90px;top:436.20px">3</div>
<div class="t" style="left:431.80px;top:436.20px">4</div>
<div class="t" style="left:461.60px;top:436.20px">6</div>
<div class="t" style="left:491.50px;top:436.20px">7</div>
<div class="t" style="left:531.70px;top:436.20px">5</div>
<div class="t" style="left:561.55px;top:436.20px">7</div>
<div class="t" style="left:591.40px;top:436.20px">8</div>
<div class="t" style="left:621.25px;top:436.20px">10</div>
<div class="t" style="left:651.10px;top:436.20px">13</div>
<div class="t" style="left:315.90px;top:408.00px">50</div>
<div class="t" style="left:14.60px;top:460.60px">180</div>
<div class="t" style="left:52.30px;top:460.60px">1</div>
<div class="t" style="left:75.60px;top:460.60px">1</div>
<div class="t" style="left:98.80px;top:460.60px">1</div>
<div class="t" style="left:122.10px;top:460.60px">1</div>
<div class="t" style="left:145.50px;top:460.60px">1</div>
<div class="t" style="left:179.50px;top:460.60px">1</div>
<div class="t" style="left:202.70px;top:460.60px">1</div>
<div class="t" style="left:225.90px;top:460.60px">1</div>
<div class="t" style="left:256.10px;top:460.60px">2</div>
<div class="t" style="left:286.10px;top:460.60px">2</div>
<div class="t" style="left:372.10px;top:460.60px">3</div>
<div class="t" style="left:401.90px;top:460.60px">3</div>
<div class="t" style="left:431.80px;top:460.60px">4</div>
<div class="t" style="left:461.60px;top:460.60px">6</div>
<div class="t" style="left:491.50px;top:460.60px">7</div>
<div class="t" style="left:531.70px;top:460.60px">5</div>
<div class="t" style="left:561.55px;top:460.60px">6</div>
<div class="t" style="left:591.40px;top:460.60px">8</div>
<div class="t" style="left:621.25px;top:460.60px">10</div>
<div class="t" style="left:651.10px;top:460.60px">13</div>
<div class="t" style="left:14.60px;top:479.35px">160</div>
<div class="t" style="left:52.30px;top:479.35px">&lt;1</div>
<div class="t" style="left:75.60px;top:479.35px">&lt;1</div>
<div class="t" style="left:98.80px;top:479.35px">1</div>
<div class="t" style="left:122.10px;top:479.35px">1</div>
<div class="t" style="left:145.50px;top:479.35px">1</div>
<div class="t" style="left:179.50px;top:479.35px">1</div>
<div class="t" style="left:202.70px;top:479.35px">1</div>
<div class="t" style="left:225.90px;top:479.35px">1</div>
<div class="t" style="left:256.10px;top:479.35px">1</div>
<div class="t" style="left:286.10px;top:479.35px">2</div>
<div class="t" style="left:372.10px;top:479.35px">2</div>
<div class="t" style="left:401.90px;top:479.35px">2</div>
<div class="t" style="left:431.80px;top:479.35px">3</div>
<div class="t" style="left:461.60px;top:479.35px">4</div>
<div class="t" style="left:491.50px;top:479.35px">5</div>
<div class="t" style="left:531.70px;top:479.35px">4</div>
<div class="t" style="left:561.55px;top:479.35px">4</div>
<div class="t" style="left:591.40px;top:479.35px">6</div>
<div class="t" style="left:621.25px;top:479.35px">7</div>
<div class="t" style="left:651.10px;top:479.35px">9</div>
<div class="t" style="left:14.60px;top:498.10px">140</div>
<div class="t" style="left:52.30px;top:498.10px">&lt;1</div>
<div class="t" style="left:75.60px;top:498.10px">&lt;1</div>
<div class="t" style="left:98.80px;top:498.10px">&lt;1</div>
<div class="t" style="left:122.10px;top:498.10px">1</div>
<div class="t" style="left:145.50px;top:498.10px">1</div>
<div class="t" style="left:179.50px;top:498.10px">&lt;1</div>
<div class="t" style="left:202.70px;top:498.10px">&lt;1</div>
<div class="t" style="left:225.90px;top:498.10px">1</div>
<div class="t" style="left:256.10px;top:498.10px">1</div>
<div class="t" style="left:286.10px;top:498.10px">1</div>
<div class="t" style="left:372.10px;top:498.10px">1</div>
<div class="t" style="left:401.90px;top:498.10px">2</div>
<div class="t" style="left:431.80px;top:498.10px">2</div>
<div class="t" style="left:461.60px;top:498.10px">3</div>
<div class="t" style="left:491.50px;top:498.10px">4</div>
<div class="t" style="left:531.70px;top:498.10px">3</div>
<div class="t" style="left:561.55px;top:498.10px">3</div>
<div class="t" style="left:591.40px;top:498.10px">4</div>
<div class="t" style="left:621.25px;top:498.10px">5</div>
<div class="t" style="left:651.10px;top:498.10px">7</div>
<div class="t" style="left:14.60px;top:516.85px">120</div>
<div class="t" style="left:52.30px;top:516.85px">&lt;1</div>
<div class="t" style="left:75.60px;top:516.85px">&lt;1</div>
<div class="t" style="left:98.80px;top:516.85px">&lt;1</div>
<div class="t" style="left:122.10px;top:516.85px">&lt;1</div>
<div class="t" style="left:145.50px;top:516.85px">&lt;1</div>
<div class="t" style="left:179.50px;top:516.85px">&lt;1</div>
<div class="t" style="left:202.70px;top:516.85px">&lt;1</div>
<div class="t" style="left:225.90px;top:516.85px">1</div>
<div class="t" style="left:256.10px;top:516.85px">1</div>
<div class="t" style="left:286.10px;top:516.85px">1</div>
<div class="t" style="left:372.10px;top:516.85px">1</div>
<div class="t" style="left:401.90px;top:516.85px">1</div>
<div class="t" style="left:431.80px;top:516.85px">2</div>
<div class="t" style="left:461.60px;top:516.85px">2</div>
<div class="t" style="left:491.50px;top:516.85px">3</div>
<div class="t" style="left:531.70px;top:516.85px">2</div>
<div class="t" style="left:561.55px;top:516.85px">2</div>
<div class="t" style="left:591.40px;top:516.85px">3</div>
<div class="t" style="left:621.25px;top:516.85px">4</div>
<div class="t" style="left:651.10px;top:516.85px">5</div>
<div class="t" style="left:315.90px;top:488.70px">40</div>
<div class="t" style="left:52.30px;top:9.00px">Vrouwen</div>
<div class="t" style="left:371.60px;top:9.00px">Mannen</div>
<div class="t" style="left:14.60px;top:27.60px">SBD</div>
<div class="t" style="left:52.30px;top:27.60px">Niet-rookster</div>
<div class="t" style="left:179.50px;top:27.60px">Rookster</div>
<div class="t" style="left:312.40px;top:27.60px">Leeftijd</div>
<div class="t" style="left:371.60px;top:27.60px">Niet-roker</div>
<div class="t" style="left:531.60px;top:27.60px">Roker</div>
<div class="t" style="left:52.30px;top:534.40px">4</div>
<div class="t" style="left:75.60px;top:534.40px">5</div>
<div class="t" style="left:98.80px;top:534.40px">6</div>
<div class="t" style="left:122.10px;top:534.40px">7</div>
<div class="t" style="left:145.50px;top:534.40px">8</div>
<div class="t" style="left:179.50px;top:534.40px">4</div>
<div class="t" style="left:202.70px;top:534.40px">5</div>
<div class="t" style="left:225.90px;top:534.40px">6</div>
<div class="t" style="left:256.10px;top:534.40px">7</div>
<div class="t" style="left:286.10px;top:534.40px">8</div>
<div class="t" style="left:372.10px;top:534.40px">4</div>
<div class="t" style="left:401.90px;top:534.40px">5</div>
<div class="t" style="left:431.80px;top:534.40px">6</div>
<div class="t" style="left:461.60px;top:534.40px">7</div>
<div class="t" style="left:491.50px;top:534.40px">8</div>
<div class="t" style="left:531.70px;top:534.40px">4</div>
<div class="t" style="left:561.55px;top:534.40px">5</div>
<div class="t" style="left:591.40px;top:534.40px">6</div>
<div class="t" style="left:621.25px;top:534.40px">7</div>
<div class="t" style="left:651.10px;top:534.40px">8</div>
<div class="t" style="left:52.30px;top:552.00px">Ratio totaal cholesterol/HDL</div>
<div class="t" style="left:371.60px;top:552.00px">Ratio totaal cholesterol/HDL</div>
<div class="t" style="left:6.40px;top:581.60px">.</div>
<div class="l" style="left:52.90px;top:595.00px">&lt; 10 % risico op ziekte of sterfte door HVZ; leefstijladviezen indien daar aanleiding voor is, zelden medicamenteuze behandeling.</div>
<div class="l" style="left:52.90px;top:622.00px">10% tot 20% risico op ziekte of sterfte door HVZ; leefstijladviezen, medicamenteuze behandeling alleen bij risicoverhogende factoren</div>
<div class="l" style="left:52.90px;top:636.00px">en SBD &gt; 140 mmHg en/of LDL &gt; 2,5 mmol/l.</div>
<div class="l" style="left:52.90px;top:655.00px">≥ 20% risico op ziekte of sterfte door HVZ; leefstijladviezen, medicamenteuze behandeling als SBD &gt; 140 mmHg en/of LDL &gt; 2,5</div>
<div class="l" style="left:52.90px;top:669.00px">mmol/l.</div>
</body></html>
